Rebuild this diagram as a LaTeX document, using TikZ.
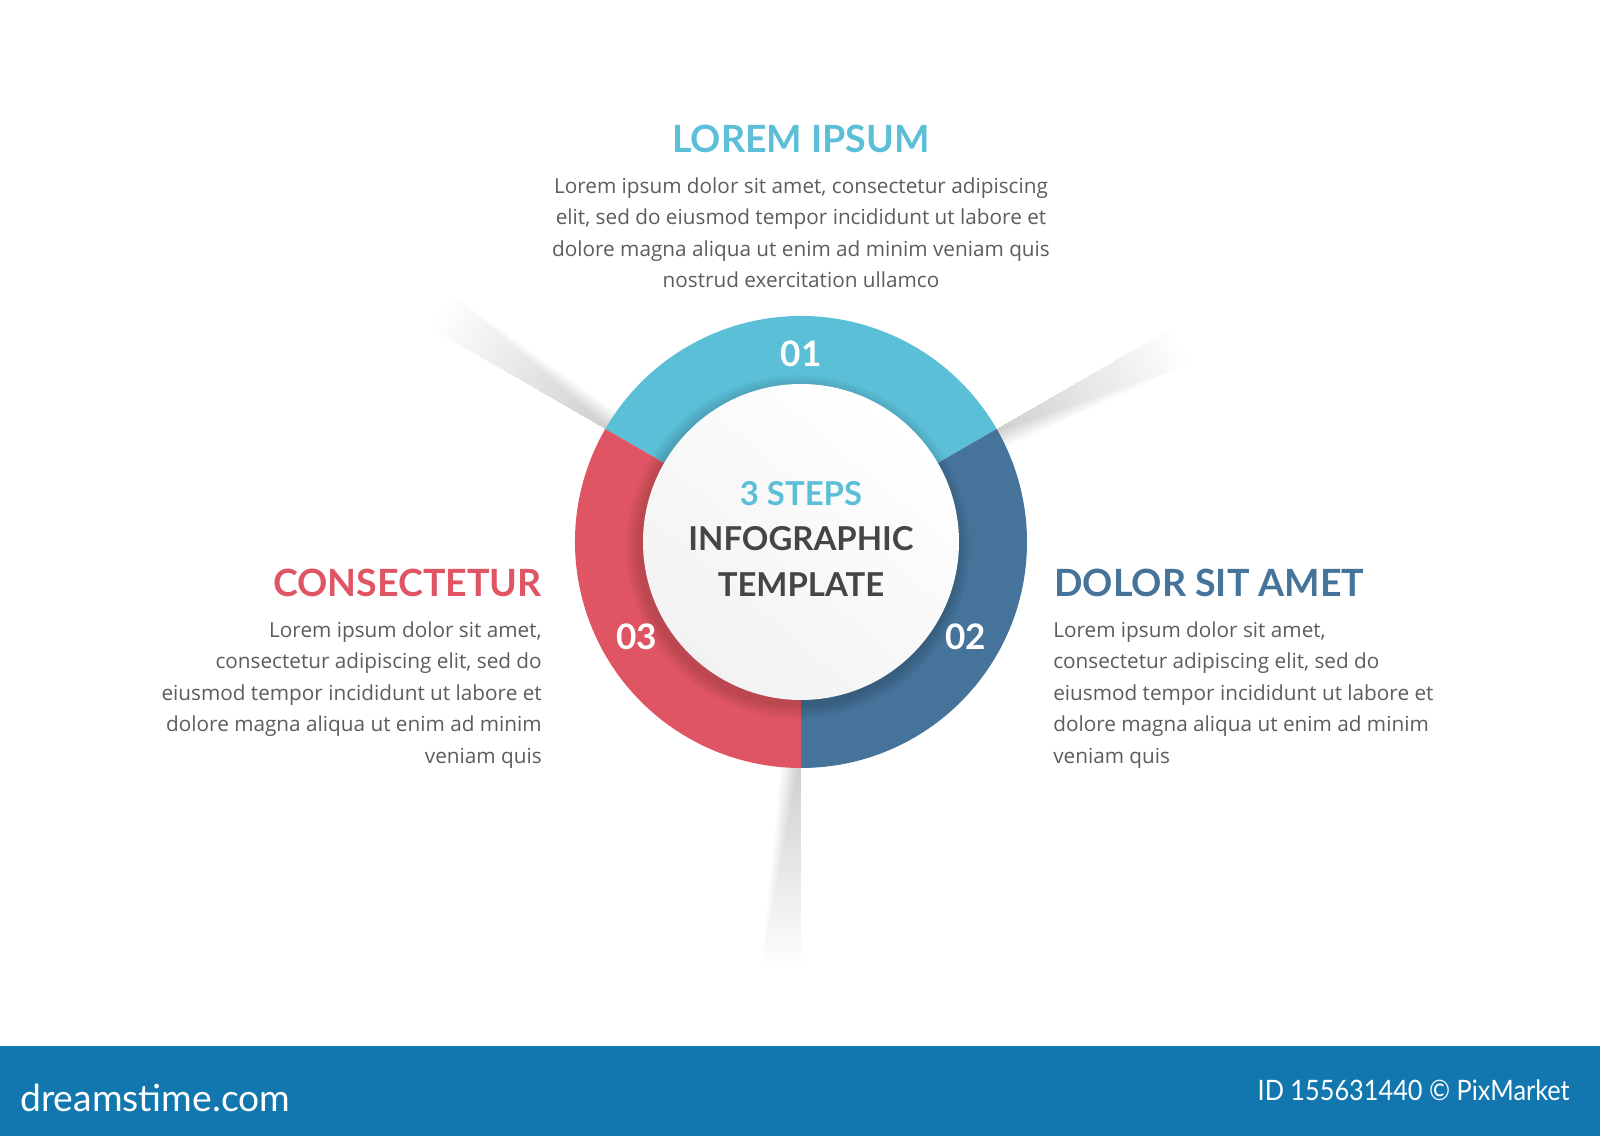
\documentclass[tikz,border=0pt]{standalone}
\usepackage{fontspec}
\setmainfont{Open Sans}
\newfontfamily\lato{Lato}
\usetikzlibrary{calc}

\definecolor{stepblue}{HTML}{5BBFD7}
\definecolor{stepnavy}{HTML}{45739A}
\definecolor{stepred}{HTML}{E05563}
\definecolor{bodygray}{HTML}{5C5C5C}
\definecolor{darkgray}{HTML}{454545}
\definecolor{barblue}{HTML}{1177AE}

\tikzset{
  head/.style={inner sep=0pt, font=\lato\bfseries\fontsize{26.7}{32}\selectfont},
  body/.style={inner sep=0pt, text=bodygray, font=\fontsize{14.75}{22.4}\selectfont},
  num/.style={inner sep=0pt, text=white, font=\lato\bfseries\fontsize{25}{29}\selectfont},
  mid/.style={inner sep=0pt, font=\lato\bfseries\fontsize{23.4}{28}\selectfont},
}

\begin{document}
\begin{tikzpicture}[x=0.025cm, y=0.025cm]
\useasboundingbox (0,0) rectangle (1600,1136);
\coordinate (c) at (801,594);

% fold shadows behind the ring
\foreach \a in {150,30,270} {
  \begin{scope}[shift={(c)}, rotate=\a]
    \foreach \t in {0.02,0.04,...,1.0} {
      \fill[black, fill opacity=0.005] (215,0) -- ({215+212*\t},0)
        -- ({215+212*\t},{-40*\t}) -- (215,{-20*\t}) -- cycle;
    }
  \end{scope}
}

% ring segments
\fill[stepblue] (c) -- ++(30:226) arc (30:150:226) -- cycle;
\fill[stepnavy] (c) -- ++(-90:226) arc (-90:30:226) -- cycle;
\fill[stepred] (c) -- ++(150:226) arc (150:270:226) -- cycle;

% soft shadow of the inner disc
\foreach \k in {2,4,...,14} {
  \fill[black, fill opacity=0.022] ($(c)+(-3,-5)$) circle (158+\k);
}
\shade[top color=white, bottom color=gray!10, shading angle=-40] (c) circle (158);

% step numbers
\node[num] (n1) at ($(c)+(90:188)$) {01};
\node[num] (n2) at ($(c)+(-30:190)$) {02};
\node[num] (n3) at ($(c)+(210:190)$) {03};

% centre title
\node[mid, text=stepblue] (steps) at (801,642) {3 STEPS};
\node[mid, text=darkgray] (info) at (801,597) {INFOGRAPHIC};
\node[mid, text=darkgray] (tmpl) at (801,551) {TEMPLATE};

% step 01
\node[head, text=stepblue] (head1) at (801,997) {LOREM IPSUM};
\node[body, anchor=north, align=center] (text1) at (801,959)
  {Lorem ipsum dolor sit amet, consectetur adipiscing\\
   elit, sed do eiusmod tempor incididunt ut labore et\\
   dolore magna aliqua ut enim ad minim veniam quis\\
   nostrud exercitation ullamco};

% step 02
\node[head, text=stepnavy, anchor=west] (head2) at (1054,553) {DOLOR SIT AMET};
\node[body, anchor=north west, align=left] (text2) at (1053,515)
  {Lorem ipsum dolor sit amet,\\
   consectetur adipiscing elit, sed do\\
   eiusmod tempor incididunt ut labore et\\
   dolore magna aliqua ut enim ad minim\\
   veniam quis};

% step 03
\node[head, text=stepred, anchor=east] (head3) at (542,553) {CONSECTETUR};
\node[body, anchor=north east, align=right] (text3) at (542,515)
  {Lorem ipsum dolor sit amet,\\
   consectetur adipiscing elit, sed do\\
   eiusmod tempor incididunt ut labore et\\
   dolore magna aliqua ut enim ad minim\\
   veniam quis};

% footer bar
\fill[barblue] (0,0) rectangle (1600,90);
\node[inner sep=0pt, anchor=west, text=white, font=\lato\fontsize{26.5}{30}\selectfont] (brand) at (20,38) {dreamstime.com};
\node[inner sep=0pt, anchor=east, text=white, font=\lato\fontsize{20}{24}\selectfont] (id) at (1570,46) {\scalebox{0.9}[1]{ID 155631440 © PixMarket}};
\end{tikzpicture}
\end{document}
